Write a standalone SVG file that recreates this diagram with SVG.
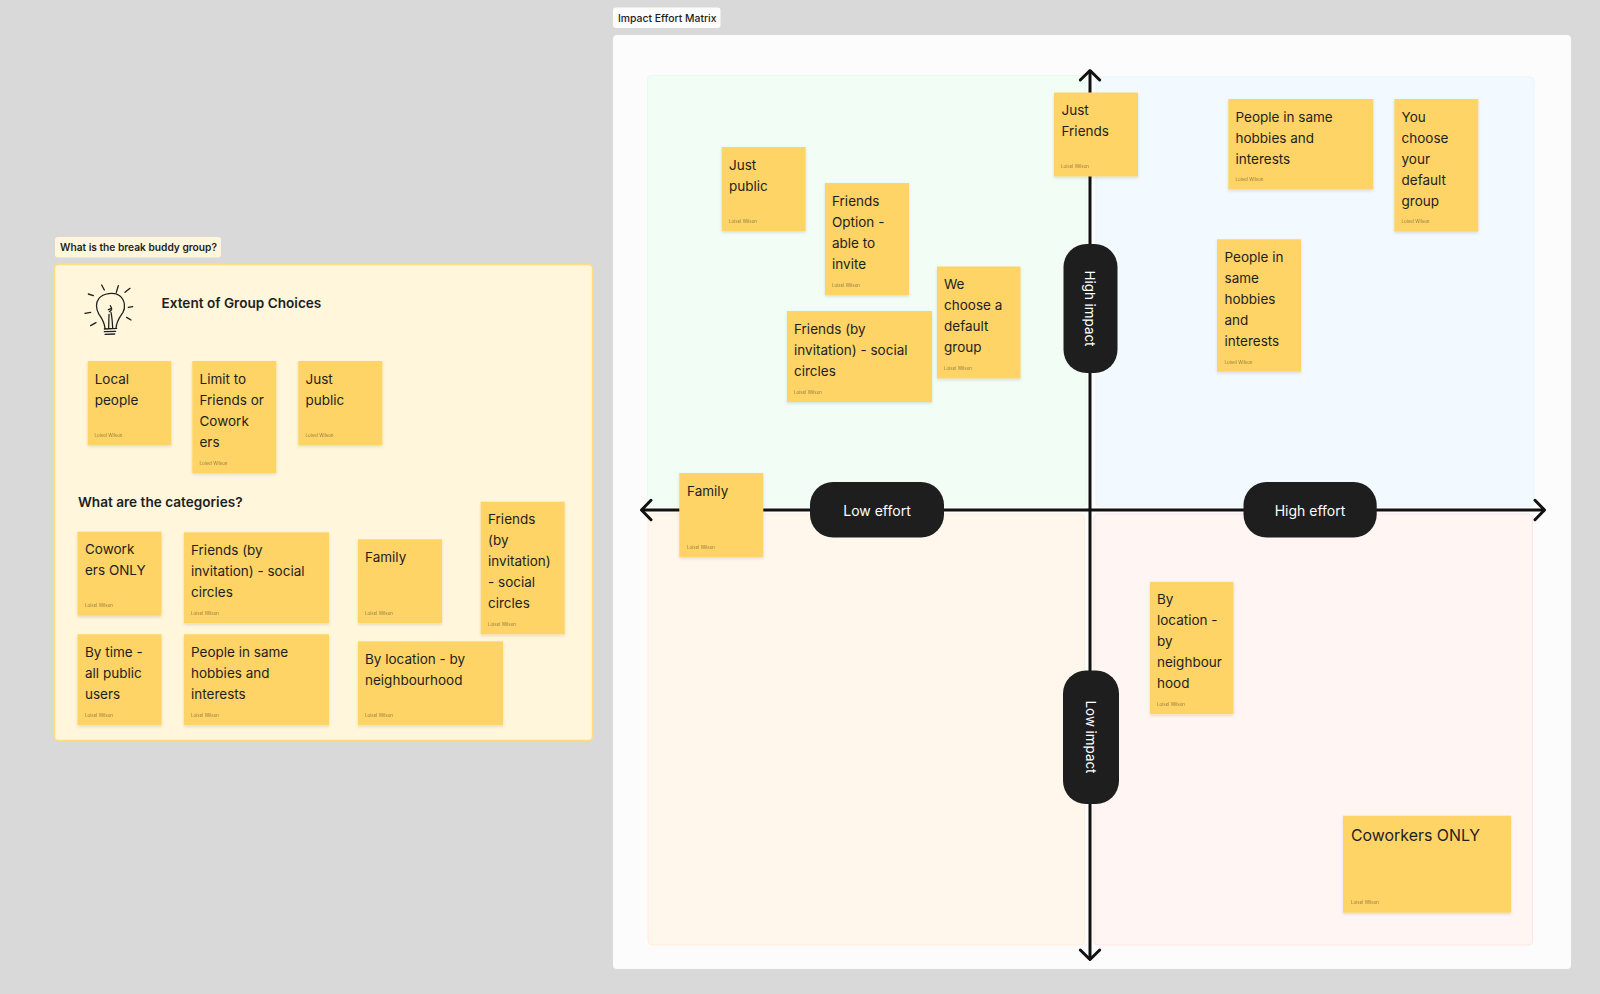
<svg xmlns="http://www.w3.org/2000/svg" width="1600" height="994" viewBox="0 0 1600 994">
<style>
text{font-family:Inter,"Noto Sans","Liberation Sans",sans-serif;fill:#1e1e1e}
.n{fill:#ffd466;filter:url(#sh)}
.t{font-size:13.5px}
.a{font-size:4.5px;opacity:.5}
.l{font-size:10.2px;font-weight:600}
.h{font-size:13.6px;font-weight:600}
.p{fill:#1e1e1e}
.pt{font-size:14px;font-weight:400;fill:#fff;text-anchor:middle;dominant-baseline:central}
.pv{font-size:13.4px}
.ax{stroke:#111;stroke-width:3;fill:none;marker-start:url(#ch);marker-end:url(#ch)}
.b{fill:none;stroke:#1e1e1e;stroke-linecap:round;stroke-linejoin:round}
</style>
<defs>
<filter id="sh" x="-10%" y="-10%" width="120%" height="125%"><feDropShadow dx="0" dy="1.5" stdDeviation="1.5" flood-color="#000" flood-opacity=".12"/></filter>
<marker id="ch" markerUnits="userSpaceOnUse" markerWidth="30" markerHeight="30" viewBox="-20 -15 30 30" refX="0" refY="0" orient="auto-start-reverse"><path d="M-10,-9.7 L-.5,0 L-10,9.7" fill="none" stroke="#111" stroke-width="3" stroke-linecap="round" stroke-linejoin="round"/></marker>
</defs>
<rect width="1600" height="994" fill="#d9d9d9"/>

<g id="frame-break-buddy">
<rect x="55" y="237" width="166" height="20.5" rx="3" fill="#fff6dc"/>
<text class="l" x="60" y="250.6">What is the break buddy group?</text>
<rect x="54.5" y="264.5" width="538" height="476" rx="4" fill="#fff6dc" stroke="#ffdd80" stroke-width="1.5"/>
</g>
<g id="frame-matrix">
<rect x="613" y="7.5" width="107.5" height="20.5" rx="3" fill="#fcfcfc"/>
<text x="618" y="21.5" font-size="10.4" font-weight="500">Impact Effort Matrix</text>
<rect x="613" y="35" width="958" height="934" rx="4" fill="#fcfcfc"/>
</g>
<g id="quadrants">
<rect x="647.5" y="75.5" width="438.5" height="430.5" rx="4" fill="#f2fdf5" stroke="#e6fbec"/>
<rect x="1096" y="77" width="438" height="429" rx="4" fill="#f3faff" stroke="#e6f4ff"/>
<rect x="648" y="514" width="436.5" height="431" rx="4" fill="#fff6ec" stroke="#ffeedd"/>
<rect x="1094" y="514" width="438.5" height="431" rx="4" fill="#fff5f3" stroke="#ffe6e3"/>
</g>
<g id="connectors">
<line class="ax" x1="641" y1="510" x2="1545" y2="510"/>
<line class="ax" x1="1090" y1="70" x2="1090" y2="960"/>
</g>
<g id="pill-low-effort"><rect class="p" x="810" y="482" width="134" height="55.5" rx="23"/><text class="pt" x="877" y="510">Low effort</text></g>
<g id="pill-high-effort"><rect class="p" x="1243.5" y="482" width="133.2" height="55.5" rx="23"/><text class="pt" x="1310" y="510">High effort</text></g>
<g id="pill-high-impact"><rect class="p" x="1063.5" y="244" width="54" height="129" rx="23"/><text class="pt pv" transform="translate(1090 308.5) rotate(90)">High impact</text></g>
<g id="pill-low-impact"><rect class="p" x="1063" y="670.5" width="56" height="133.5" rx="23"/><text class="pt pv" transform="translate(1090.5 737) rotate(90)">Low impact</text></g>

<g id="bulb" transform="translate(75 275) scale(.3333)">
<path class="b" style="stroke-width:4" d="M40,57L55,62M80,30L88,45M130,32L124,52M165,40L150,52M160,97L173,95M155,127L168,135M30,115L47,112M47,152L63,143"/>
<path class="b" style="stroke-width:3.8" d="M90,160C88,140 80,130 72,118C62,102 62,82 72,70C84,55 118,50 134,62C150,74 152,98 144,112C136,124 125,135 123,160M88,162L125,160M88,170L122,169M90,178L119,177M101,158L102,118M113,158C112,140 111,125 108,112M100,104L110,100L106,92M103,110L110,104"/>
</g>
<text class="h" x="161.5" y="308.3" id="heading-extent">Extent of Group Choices</text>
<text class="h" x="78" y="507.3" id="heading-categories">What are the categories?</text>

<g id="s1"><rect class="n" x="87.7" y="361" width="83.6" height="84"/><text class="t" x="94.7" y="383.5">Local</text><text class="t" x="94.7" y="404.5">people</text><text class="a" x="94.5" y="436.5">Loisel Wilson</text></g>
<g id="s2"><rect class="n" x="192.3" y="361" width="84" height="112"/><text class="t" x="199.5" y="383.5">Limit to</text><text class="t" x="199.5" y="404.5">Friends or</text><text class="t" x="199.5" y="425.5">Cowork</text><text class="t" x="199.5" y="446.5">ers</text><text class="a" x="199.5" y="464.5">Loisel Wilson</text></g>
<g id="s3"><rect class="n" x="298.3" y="361" width="84" height="84"/><text class="t" x="305.5" y="383.5">Just</text><text class="t" x="305.5" y="404.5">public</text><text class="a" x="305.5" y="436.5">Loisel Wilson</text></g>

<g id="s4"><rect class="n" x="77.5" y="531.7" width="84" height="84"/><text class="t" x="85" y="554.2">Cowork</text><text class="t" x="85" y="575.2">ers ONLY</text><text class="a" x="85" y="607">Loisel Wilson</text></g>
<g id="s5"><rect class="n" x="184" y="532.3" width="145" height="91"/><text class="t" x="191" y="555">Friends (by</text><text class="t" x="191" y="576">invitation) - social</text><text class="t" x="191" y="597">circles</text><text class="a" x="191" y="615">Loisel Wilson</text></g>
<g id="s6"><rect class="n" x="358" y="539.3" width="84" height="84"/><text class="t" x="365" y="562">Family</text><text class="a" x="365" y="615">Loisel Wilson</text></g>
<g id="s7"><rect class="n" x="480.7" y="501.7" width="84" height="132.6"/><text class="t" x="488" y="524.2">Friends</text><text class="t" x="488" y="545.2">(by</text><text class="t" x="488" y="566.2">invitation)</text><text class="t" x="488" y="587.2">- social</text><text class="t" x="488" y="608.2">circles</text><text class="a" x="488" y="626">Loisel Wilson</text></g>
<g id="s8"><rect class="n" x="77.5" y="634.3" width="84" height="91"/><text class="t" x="85" y="657">By time -</text><text class="t" x="85" y="678">all public</text><text class="t" x="85" y="699">users</text><text class="a" x="85" y="717">Loisel Wilson</text></g>
<g id="s9"><rect class="n" x="184" y="634.3" width="145" height="91"/><text class="t" x="191" y="657">People in same</text><text class="t" x="191" y="678">hobbies and</text><text class="t" x="191" y="699">interests</text><text class="a" x="191" y="717">Loisel Wilson</text></g>
<g id="s10"><rect class="n" x="358" y="641.3" width="145" height="84"/><text class="t" x="365" y="664">By location - by</text><text class="t" x="365" y="685">neighbourhood</text><text class="a" x="365" y="717">Loisel Wilson</text></g>

<g id="m1"><rect class="n" x="721.7" y="147" width="84" height="84"/><text class="t" x="729" y="169.5">Just</text><text class="t" x="729" y="190.5">public</text><text class="a" x="729" y="222.5">Loisel Wilson</text></g>
<g id="m2"><rect class="n" x="825" y="183" width="84" height="112"/><text class="t" x="832" y="205.5">Friends</text><text class="t" x="832" y="226.5">Option -</text><text class="t" x="832" y="247.5">able to</text><text class="t" x="832" y="268.5">invite</text><text class="a" x="832" y="286.5">Loisel Wilson</text></g>
<g id="m3"><rect class="n" x="937" y="266.5" width="83.5" height="112"/><text class="t" x="944" y="289">We</text><text class="t" x="944" y="310">choose a</text><text class="t" x="944" y="331">default</text><text class="t" x="944" y="352">group</text><text class="a" x="944" y="370">Loisel Wilson</text></g>
<g id="m4"><rect class="n" x="787" y="311" width="145" height="91"/><text class="t" x="794" y="333.5">Friends (by</text><text class="t" x="794" y="354.5">invitation) - social</text><text class="t" x="794" y="375.5">circles</text><text class="a" x="794" y="393.5">Loisel Wilson</text></g>
<g id="m5"><rect class="n" x="1054" y="92.5" width="84" height="84"/><text class="t" x="1061.5" y="115">Just</text><text class="t" x="1061.5" y="136">Friends</text><text class="a" x="1061" y="168">Loisel Wilson</text></g>
<g id="m6"><rect class="n" x="1228.3" y="99" width="145" height="90.5"/><text class="t" x="1235.5" y="121.7">People in same</text><text class="t" x="1235.5" y="142.7">hobbies and</text><text class="t" x="1235.5" y="163.7">interests</text><text class="a" x="1235.5" y="181">Loisel Wilson</text></g>
<g id="m7"><rect class="n" x="1394.3" y="99" width="84" height="132.7"/><text class="t" x="1401.5" y="121.5">You</text><text class="t" x="1401.5" y="142.5">choose</text><text class="t" x="1401.5" y="163.5">your</text><text class="t" x="1401.5" y="184.5">default</text><text class="t" x="1401.5" y="205.5">group</text><text class="a" x="1401.5" y="223">Loisel Wilson</text></g>
<g id="m8"><rect class="n" x="1217" y="239.3" width="84" height="132.4"/><text class="t" x="1224.5" y="262">People in</text><text class="t" x="1224.5" y="283">same</text><text class="t" x="1224.5" y="304">hobbies</text><text class="t" x="1224.5" y="325">and</text><text class="t" x="1224.5" y="346">interests</text><text class="a" x="1224.5" y="363.5">Loisel Wilson</text></g>
<g id="m9"><rect class="n" x="679.3" y="473" width="84" height="84"/><text class="t" x="687" y="495.5">Family</text><text class="a" x="687" y="548.5">Loisel Wilson</text></g>
<g id="m10"><rect class="n" x="1150" y="581.8" width="83.5" height="132.4"/><text class="t" x="1157" y="604.2">By</text><text class="t" x="1157" y="625.2">location -</text><text class="t" x="1157" y="646.2">by</text><text class="t" x="1157" y="667.2">neighbour</text><text class="t" x="1157" y="688.2">hood</text><text class="a" x="1157" y="706">Loisel Wilson</text></g>
<g id="m11"><rect class="n" x="1343" y="815.7" width="168" height="97"/><text x="1351" y="841" font-size="15.9">Coworkers ONLY</text><text class="a" x="1351" y="903.5">Loisel Wilson</text></g>
</svg>
